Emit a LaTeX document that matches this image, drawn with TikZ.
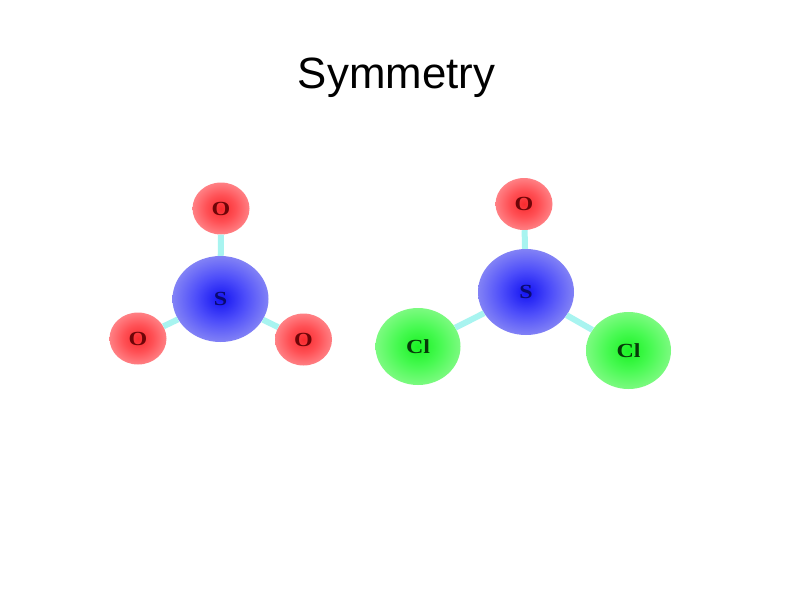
\documentclass[tikz,border=0pt]{standalone}
\usepackage{fontspec}
\setmainfont{Liberation Sans}
\newfontfamily\atomfont[FakeStretch=1.2]{Liberation Serif}
\usetikzlibrary{shapes.geometric}
\definecolor{ra}{HTML}{F82A2E}
\definecolor{rb}{HTML}{FF5055}
\definecolor{rc}{HTML}{FF8488}
\definecolor{rd}{HTML}{FFC4C4}
\definecolor{ba}{HTML}{1414F2}
\definecolor{bb}{HTML}{4E4EFA}
\definecolor{bc}{HTML}{8686F5}
\definecolor{bd}{HTML}{C0C0F6}
\definecolor{ga}{HTML}{1AF224}
\definecolor{gb}{HTML}{48FA52}
\definecolor{gc}{HTML}{80FA84}
\definecolor{gd}{HTML}{C4FAC4}
\pgfdeclareradialshading{redatom}{\pgfpoint{0bp}{0bp}}{color(0bp)=(ra); color(13bp)=(rb); color(26bp)=(rc); color(35bp)=(rd); color(100bp)=(rd)}
\pgfdeclareradialshading{blueatom}{\pgfpoint{0bp}{0bp}}{color(0bp)=(ba); color(13bp)=(bb); color(26bp)=(bc); color(35bp)=(bd); color(100bp)=(bd)}
\pgfdeclareradialshading{greenatom}{\pgfpoint{0bp}{0bp}}{color(0bp)=(ga); color(13bp)=(gb); color(26bp)=(gc); color(35bp)=(gd); color(100bp)=(gd)}
\definecolor{bondcol}{HTML}{A8F4F0}
\definecolor{otext}{HTML}{6E0508}
\definecolor{stext}{HTML}{0A0A70}
\definecolor{cltext}{HTML}{063A08}
\tikzset{
  atom/.style={ellipse,inner sep=0pt,font=\atomfont\bfseries\fontsize{20}{20}\selectfont},
  oxy/.style={atom,shading=redatom,minimum width=57pt,minimum height=52pt,text=otext},
  sul/.style={atom,shading=blueatom,minimum width=96pt,minimum height=86pt,text=stext},
  chl/.style={atom,shading=greenatom,minimum width=85pt,minimum height=77pt,text=cltext},
  bond/.style={draw=bondcol,line width=6pt},
  title/.style={font=\fontsize{43.8}{44}\selectfont,text=black}
}
\begin{document}
\begin{tikzpicture}[x=1pt,y=-1pt]
\useasboundingbox (0,0) rectangle (794,595);
\fill[white] (0,0) rectangle (794,595);
\node[title] (t) at (396.5,78) {Symmetry};
\node[sul] (s1) at (220.5,299) {S};
\node[oxy] (o1) at (221,208.5) {O};
\node[oxy] (o2) at (138,338.5) {O};
\node[oxy] (o3) at (303.5,339.5) {O};
\node[sul] (s2) at (526,292) {S};
\node[oxy] (o4) at (524,204) {O};
\node[chl] (c1) at (418,346.5) {Cl};
\node[chl] (c2) at (628.5,350.5) {Cl};
\draw[bond] (s1) -- (o1);
\draw[bond] (s1) -- (o2);
\draw[bond] (s1) -- (o3);
\draw[bond] (s2) -- (o4);
\draw[bond] (s2) -- (c1);
\draw[bond] (s2) -- (c2);
\end{tikzpicture}
\end{document}
